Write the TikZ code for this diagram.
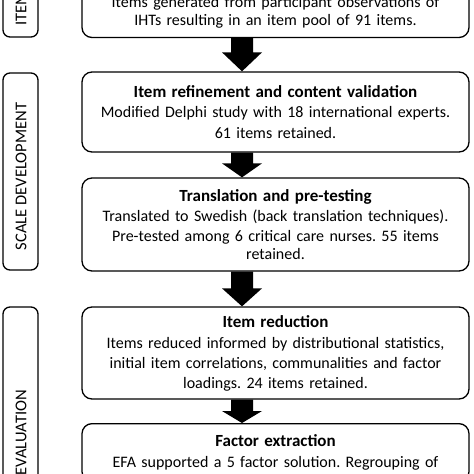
\documentclass[tikz,border=0pt]{standalone}
\usepackage{fontspec}
\setmainfont{Carlito}
\usetikzlibrary{calc}
\frenchspacing
\tikzset{
  stagebox/.style={draw=black, line width=1.3pt, rounded corners=10pt, minimum width=387pt,
    text width=384pt, align=center, inner sep=0pt, font=\fontsize{16}{20}\selectfont},
  sidebox/.style={draw=black, line width=1.3pt, rounded corners=7pt, minimum width=35pt, inner sep=0pt},
  sidetext/.style={rotate=90, inner sep=0pt, font=\fontsize{16.5}{18}\selectfont},
  blockfill/.style={fill=black}
}
\newcommand\ttl[1]{{\fontsize{17}{20}\selectfont\bfseries #1}}
\newcommand\blockarrow[3]{%
  \coordinate (bt) at (#1.south -| ax);
  \coordinate (bp) at (#2.north -| ax);
  \coordinate (bh) at ($(bp)+(0,-#3)$);
  \fill[blockfill] ($(bt)+(-11,0)$) -- ($(bt)+(11,0)$) -- ($(bh)+(11,0)$) -- ($(bh)+(20,0)$)
    -- (bp) -- ($(bh)+(-20,0)$) -- ($(bh)+(-11,0)$) -- cycle;
}
\begin{document}
\begin{tikzpicture}[x=1pt,y=-1pt]
\useasboundingbox (0,0) rectangle (474,474);
\clip (0,0) rectangle (474,474);
\fill[white] (0,0) rectangle (474,474);
\coordinate (ax) at (242,0);

% side boxes
\node[sidebox, minimum height=80pt] (sA) at (20.5,-3) {};
\node[sidebox, minimum height=197pt] (sB) at (20.5,171.5) {};
\node[sidebox, minimum height=200pt] (sC) at (20.5,407) {};
\node[sidetext, anchor=west] (tA) at (21,25.5) {ITEM};
\node[sidetext] (tB) at (21,176.5) {SCALE DEVELOPMENT};
\node[sidetext, anchor=east] (tC) at (21,390) {EVALUATION};

% main boxes
\node[stagebox, minimum height=50pt] (b1) at (275.5,12.5) {Items generated from participant observations of\\[-2pt] IHTs resulting in an item pool of 91 items.};
\node[stagebox, minimum height=80pt] (b2) at (275.5,112) {\ttl{Item refinement and content validation}\\ Modified Delphi study with 18 international experts.\\[1pt] 61 items retained.};
\node[stagebox, minimum height=93pt] (b3) at (275.5,224.5) {\ttl{Translation and pre-testing}\\ Translated to Swedish (back translation techniques).\\ Pre-tested among 6 critical care nurses. 55 items\\[-2pt] retained.};
\node[stagebox, minimum height=92pt] (b4) at (275.5,353) {\ttl{Item reduction}\\[1pt] Items reduced informed by distributional statistics,\\ initial item correlations, communalities and factor\\ loadings. 24 items retained.};
\node[stagebox, minimum height=58pt, anchor=north] (b5) at (275.5,423) {\ttl{Factor extraction}\\[1pt] EFA supported a 5 factor solution. Regrouping of};

% block arrows
\blockarrow{b1}{b2}{19}
\blockarrow{b2}{b3}{14}
\blockarrow{b3}{b4}{18}
\blockarrow{b4}{b5}{12}
\end{tikzpicture}
\end{document}
